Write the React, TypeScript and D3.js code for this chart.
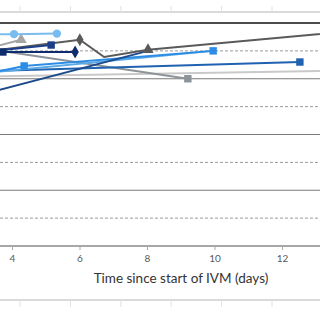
import React, { useEffect, useRef } from 'react';
import * as d3 from 'd3';

// x: days since start of IVM, y: measured value (axis labels sit off to the left)
const xTicks = [4, 6, 8, 10, 12];
const gridValues = [0.5, 1, 1.5, 2, 2.5, 3, 3.5];
const neighbourTicks = [0, 1, 2, 3, 4, 5];

const skyDays = [3.2, 4.06, 5.33];
const skyVals = [3.8, 3.8, 3.81];
const skyMarks = ['', 'circle', 'circle'];

const lightGrayDays = [3.0, 4.27];
const lightGrayVals = [3.5, 3.7];
const lightGrayMarks = ['', 'triangle'];

const darkGrayDays = [3.0, 6.01, 6.73, 8.03, 14.0];
const darkGrayVals = [3.47, 3.7, 3.39, 3.52, 3.85];
const darkGrayMarks = ['', 'diamond', '', 'triangle', ''];

const navySqDays = [3.0, 5.16];
const navySqVals = [3.47, 3.605];
const navySqMarks = ['', 'square'];

const navyDiaDays = [3.73, 5.87];
const navyDiaVals = [3.48, 3.48];
const navyDiaMarks = ['square', 'diamond'];

const midGrayDays = [3.0, 9.21];
const midGrayVals = [3.56, 3.0];
const midGrayMarks = ['', 'square'];

const blueDays = [3.0, 4.36, 9.96];
const blueVals = [3.06, 3.23, 3.5];
const blueMarks = ['', 'square', 'square'];

const darkBlueDays = [3.0, 12.53];
const darkBlueVals = [3.13, 3.3];
const darkBlueMarks = ['', 'square'];

const paleGrayDays = [3.0, 14.0];
const paleGrayVals = [3.04, 3.15];
const paleGrayMarks = ['', ''];

const steepDays = [3.0, 8.03];
const steepVals = [2.7, 3.5];
const steepMarks = ['', ''];

const lightBlueDays = [3.0, 9.96];
const lightBlueVals = [3.09, 3.5];
const lightBlueMarks = ['', ''];

const series = [
  { color: '#c9c9c9', days: paleGrayDays, vals: paleGrayVals, marks: paleGrayMarks },
  { color: '#8c9399', days: midGrayDays, vals: midGrayVals, marks: midGrayMarks },
  { color: '#a5a5a5', days: lightGrayDays, vals: lightGrayVals, marks: lightGrayMarks },
  { color: '#1f62b0', days: darkBlueDays, vals: darkBlueVals, marks: darkBlueMarks },
  { color: '#5aa9e6', days: lightBlueDays, vals: lightBlueVals, marks: lightBlueMarks },
  { color: '#2b8ce6', days: blueDays, vals: blueVals, marks: blueMarks },
  { color: '#1d4a8a', days: steepDays, vals: steepVals, marks: steepMarks },
  { color: '#5a5a5a', days: darkGrayDays, vals: darkGrayVals, marks: darkGrayMarks },
  { color: '#1c3f8c', days: navySqDays, vals: navySqVals, marks: navySqMarks },
  { color: '#0f2d6e', days: navyDiaDays, vals: navyDiaVals, marks: navyDiaMarks },
  { color: '#79bdf0', days: skyDays, vals: skyVals, marks: skyMarks },
];

const symbolFor = {
  circle: d3.symbolCircle,
  square: d3.symbolSquare,
  diamond: d3.symbolDiamond,
  triangle: d3.symbolTriangle,
};

export default function App() {
  const ref = useRef(null);

  useEffect(() => {
    const width = 320;
    const svg = d3.select(ref.current);
    svg.selectAll('*').remove();

    const x = d3.scaleLinear().domain([4, 12]).range([12, 282]);
    const y = d3.scaleLinear().domain([0, 4]).range([246, 23]);
    const nx = d3.scaleLinear().domain([0, 5]).range([20, 272]);

    // bits of the neighbouring panels above and below
    svg.append('line').attr('x1', 0).attr('x2', width).attr('y1', 12).attr('y2', 12)
      .attr('stroke', '#b4b4b4').attr('stroke-width', 1);
    svg.append('g').selectAll('line').data(neighbourTicks).enter().append('line')
      .attr('x1', d => nx(d)).attr('x2', d => nx(d)).attr('y1', 6).attr('y2', 12)
      .attr('stroke', '#e2e2e2');
    svg.append('line').attr('x1', 0).attr('x2', width).attr('y1', 300).attr('y2', 300)
      .attr('stroke', '#b4b4b4').attr('stroke-width', 1);
    svg.append('g').selectAll('line').data(neighbourTicks).enter().append('line')
      .attr('x1', d => nx(d)).attr('x2', d => nx(d)).attr('y1', 300).attr('y2', 307)
      .attr('stroke', '#e2e2e2');

    // gridlines: solid on whole numbers, dashed on halves
    svg.append('g').selectAll('line').data(gridValues).enter().append('line')
      .attr('x1', 0).attr('x2', width)
      .attr('y1', d => y(d)).attr('y2', d => y(d))
      .attr('stroke', d => (d % 1 === 0 ? '#7a7a7a' : '#9a9a9a'))
      .attr('stroke-width', 1)
      .attr('stroke-dasharray', d => (d % 1 === 0 ? null : '3,2'));

    svg.append('line').attr('x1', 0).attr('x2', width).attr('y1', y(4)).attr('y2', y(4))
      .attr('stroke', '#111').attr('stroke-width', 1.5);

    const xAxis = svg.append('g').attr('transform', `translate(0, ${y(0)})`)
      .call(d3.axisBottom(x).tickValues(xTicks).tickSize(4).tickFormat(d3.format('d')));
    xAxis.select('.domain').attr('stroke', '#8a8a8a').attr('stroke-width', 1.5)
      .attr('d', `M0,0H${width}`);
    xAxis.selectAll('.tick line').attr('stroke', '#aaa');
    xAxis.selectAll('.tick text').attr('fill', '#595959').attr('font-size', 10)
      .attr('font-family', 'Lato, "Open Sans", sans-serif').attr('dy', '0.9em');

    svg.append('text').attr('x', 181).attr('y', 283).attr('text-anchor', 'middle')
      .attr('font-family', 'Lato, "Open Sans", sans-serif').attr('font-size', 13.5)
      .attr('fill', '#333').text('Time since start of IVM (days)');

    const line = d3.line().x(d => x(d[0])).y(d => y(d[1]));

    series.forEach(s => {
      const pts = s.days.map((d, i) => [d, s.vals[i], s.marks[i]]);
      svg.append('path').datum(pts).attr('d', line)
        .attr('fill', 'none').attr('stroke', s.color).attr('stroke-width', 2);
      svg.append('g').selectAll('path').data(pts.filter(p => p[2])).enter().append('path')
        .attr('transform', p => `translate(${x(p[0])}, ${y(p[1])})`)
        .attr('d', p => d3.symbol().type(symbolFor[p[2]]).size(p[2] === 'diamond' ? 48 : 55)())
        .attr('fill', s.color);
    });
  }, []);

  return (
    <svg ref={ref} width={320} height={320}
      style={{ position: 'absolute', left: 0, top: 0, background: '#fff', fontFamily: 'Lato' }} />
  );
}
